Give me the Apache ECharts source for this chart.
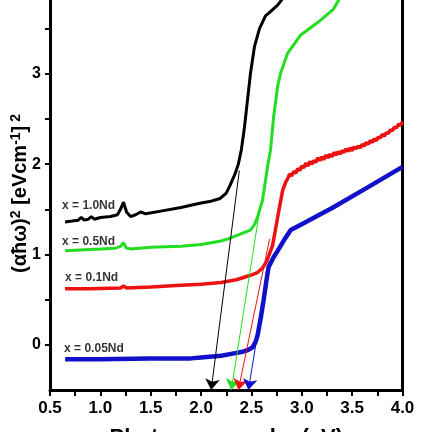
<!DOCTYPE html>
<html>
<head>
<meta charset="utf-8">
<script src="https://cdn.jsdelivr.net/npm/echarts@6/dist/echarts.min.js"></script>
<style>html,body{margin:0;padding:0;background:#fff}#c{width:432px;height:432px}</style>
</head>
<body>
<div id="c"></div>
<script>
// ---- data ----
const xRange = [0.5, 4.0];
const yRange = [-0.5, 3.85];
const black = [[0.65,1.36],[0.72,1.37],[0.78,1.38],[0.81,1.41],[0.84,1.38],[0.88,1.39],[0.91,1.42],[0.94,1.39],[1.0,1.41],[1.1,1.42],[1.17,1.44],[1.2,1.5],[1.23,1.58],[1.26,1.47],[1.3,1.42],[1.35,1.44],[1.4,1.47],[1.45,1.45],[1.6,1.48],[1.8,1.52],[2.0,1.57],[2.1,1.59],[2.19,1.62],[2.25,1.68],[2.29,1.77],[2.34,1.9],[2.37,2.0],[2.40,2.16],[2.43,2.4],[2.46,2.7],[2.49,3.0],[2.53,3.3],[2.58,3.5],[2.64,3.64],[2.7,3.7],[2.76,3.76],[2.83,3.86]];
const green = [[0.65,1.04],[0.8,1.05],[1.0,1.06],[1.15,1.07],[1.2,1.09],[1.23,1.13],[1.26,1.07],[1.3,1.06],[1.5,1.08],[1.8,1.09],[2.0,1.11],[2.2,1.15],[2.29,1.18],[2.4,1.23],[2.49,1.27],[2.53,1.33],[2.56,1.41],[2.61,1.6],[2.66,1.97],[2.69,2.16],[2.72,2.52],[2.76,2.86],[2.79,3.01],[2.86,3.23],[2.99,3.43],[3.16,3.57],[3.31,3.71],[3.39,3.86]];
const red = [[0.65,0.62],[0.9,0.62],[1.2,0.63],[1.23,0.65],[1.26,0.63],[1.5,0.64],[1.8,0.66],[2.0,0.67],[2.2,0.69],[2.35,0.72],[2.49,0.77],[2.56,0.8],[2.61,0.85],[2.65,0.92],[2.67,0.98],[2.71,1.1],[2.76,1.41],[2.81,1.71],[2.84,1.8],
  [2.86,1.84],[2.88,1.89],[2.90,1.87],[2.92,1.92],[2.94,1.90],[2.96,1.95],[2.98,1.93],[3.00,1.98],[3.02,1.96],[3.04,2.01],[3.06,1.98],[3.08,2.03],[3.10,2.00],[3.12,2.04],[3.14,2.02],[3.16,2.07],[3.18,2.04],[3.20,2.08],[3.22,2.05],[3.24,2.10],[3.26,2.07],[3.28,2.11],[3.30,2.08],[3.32,2.13],[3.34,2.10],[3.36,2.14],[3.38,2.11],[3.40,2.15],[3.42,2.13],[3.44,2.17],[3.46,2.14],[3.48,2.18],[3.50,2.15],[3.52,2.19],[3.54,2.17],[3.56,2.20],[3.58,2.18],[3.60,2.22],[3.62,2.20],[3.64,2.24],[3.66,2.22],[3.68,2.26],[3.70,2.24],[3.72,2.28],[3.74,2.26],[3.76,2.30],[3.78,2.29],[3.80,2.33],[3.82,2.31],[3.84,2.35],[3.86,2.34],[3.88,2.38],[3.90,2.37],[3.92,2.41],[3.94,2.40],[3.96,2.44],[3.98,2.43],[4.00,2.47]];
const blue = [[0.65,-0.16],[1.0,-0.16],[1.5,-0.15],[1.9,-0.15],[2.0,-0.14],[2.2,-0.12],[2.3,-0.10],[2.4,-0.08],[2.46,-0.06],[2.51,-0.03],[2.54,0.03],[2.56,0.1],[2.59,0.28],[2.62,0.49],[2.65,0.72],[2.67,0.86],[2.72,0.97],[2.76,1.04],[2.83,1.17],[2.89,1.27],[2.99,1.33],[3.31,1.52],[3.65,1.74],[4.0,1.97]];
// tangent (extrapolation) lines: [top point, bottom arrow point]
const tangBlack = [[2.38,1.93],[2.10,-0.5]];
const tangGreen = [[2.59,1.55],[2.30,-0.5]];
const tangRed   = [[2.68,1.17],[2.37,-0.5]];
const tangBlue  = [[2.66,0.80],[2.47,-0.5]];
const labelTexts = ['x = 1.0Nd','x = 0.5Nd','x = 0.1Nd','x = 0.05Nd'];
const labelPos = [[0.62,1.54],[0.62,1.14],[0.65,0.74],[0.64,-0.04]];
const colors = {black:'#000000', green:'#22dd22', red:'#ee1111', blue:'#1111cc'};

const sans = 'Liberation Sans, Arial, sans-serif';

function curve(data, color, w){
  return {type:'line', data:data, showSymbol:false, symbol:'none', smooth:false,
    lineStyle:{color:color, width:w}, z:3, silent:true};
}
function tang(coords, color){
  return {type:'lines', coordinateSystem:'cartesian2d', symbol:['none','arrow'], symbolSize:[6,11],
    lineStyle:{color:color, width:1, opacity:1}, data:[{coords:coords}], z:4, silent:true};
}

const chart = echarts.init(document.getElementById('c'), null, {renderer:'canvas'});
chart.setOption({
  animation:false,
  backgroundColor:'#ffffff',
  grid:{left:50, right:29.5, top:-3, bottom:42, show:false, containLabel:false, outerBoundsMode:'none'},
  xAxis:{type:'value', min:xRange[0], max:xRange[1], interval:0.5,
    name:'Photon energy hν (eV)', nameLocation:'middle', nameGap:37, nameMoveOverlap:false,
    nameTextStyle:{fontFamily:sans, fontWeight:'bold', fontSize:22, color:'#000'},
    axisLine:{show:true, onZero:false, lineStyle:{color:'#000', width:3}},
    axisTick:{show:true, inside:false, length:6, lineStyle:{color:'#000', width:2}},
    minorTick:{show:true, splitNumber:2, length:6, lineStyle:{color:'#000', width:2}},
    splitLine:{show:false},
    axisLabel:{margin:10, fontFamily:sans, fontWeight:'bold', fontSize:17, color:'#000',
      formatter:v=>v.toFixed(1)}
  },
  yAxis:[{type:'value', min:yRange[0], max:yRange[1], interval:0.5,
    name:'{a|(αħω)}{s|2}{a| [eVcm}{s|-1}{a|]}{s| 2}', nameLocation:'middle', nameGap:18, nameMoveOverlap:false,
    nameTextStyle:{fontFamily:sans, fontWeight:'bold', fontSize:20, color:'#000',
      rich:{a:{fontFamily:sans, fontWeight:'bold', fontSize:20, lineHeight:23, color:'#000'},
            s:{fontFamily:sans, fontWeight:'bold', fontSize:14, lineHeight:14, verticalAlign:'top', color:'#000'}}},
    axisLine:{show:true, onZero:false, lineStyle:{color:'#000', width:3}},
    axisTick:{show:true, inside:false, length:5, lineStyle:{color:'#000', width:2},
      customValues:[0,0.5,1,1.5,2,2.5,3,3.5]},
    splitLine:{show:false},
    axisLabel:{margin:9, fontFamily:sans, fontWeight:'bold', fontSize:16, color:'#000',
      formatter:v=> (Math.abs(v-Math.round(v))<1e-6 && v>=0) ? String(Math.round(v)) : ''}
  },{type:'value', position:'right', min:yRange[0], max:yRange[1],
    axisLine:{show:true, onZero:false, lineStyle:{color:'#000', width:3}},
    axisTick:{show:false}, axisLabel:{show:false}, splitLine:{show:false}}],
  series:[
    curve(black, colors.black, 3),
    curve(green, colors.green, 3),
    curve(red, colors.red, 3.5),
    curve(blue, colors.blue, 4.5),
    tang(tangBlack, colors.black),
    tang(tangGreen, colors.green),
    tang(tangRed, colors.red),
    tang(tangBlue, colors.blue),
    {type:'scatter', symbolSize:0, z:5, silent:true,
      data: labelPos.map((p,i)=>[p[0],p[1],labelTexts[i]]),
      label:{show:true, position:'right', distance:0, formatter:p=>p.value[2],
        fontFamily:sans, fontWeight:'bold', fontSize:12, color:'#000'}}
  ]
});
</script>
</body>
</html>
